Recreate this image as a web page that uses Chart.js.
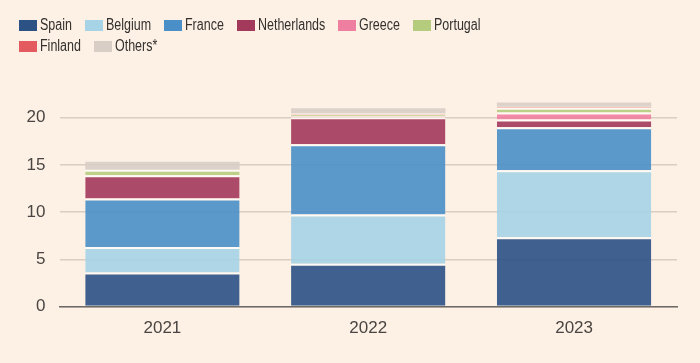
<!DOCTYPE html>
<html>
<head>
<meta charset="utf-8">
<script src="https://cdn.jsdelivr.net/npm/chart.js@4"></script>
<style>
  html, body { margin: 0; padding: 0; background: #fdf1e5; }
  #wrap { position: relative; width: 700px; height: 363px; }
  #legend {
    position: absolute; left: 19px; top: 16px; width: 500px;
    display: flex; flex-wrap: wrap;
    font-family: "Liberation Sans", Arial, sans-serif;
    font-size: 16px; color: #33302e; line-height: 18px;
  }
  #legend .item { display: flex; align-items: center; margin: 0 13px 3px 0; height: 18px; }
  #legend .sw { width: 18px; height: 11px; margin-right: 3px; flex: none; }
  #legend .txt { display: block; white-space: nowrap; height: 18px; }
  #legend .txt span { display: inline-block; transform: scaleX(0.78); transform-origin: 0 50%; vertical-align: top; }
  #legend .br { flex-basis: 100%; height: 0; }
</style>
</head>
<body>
<div id="wrap">
  <div id="legend"></div>
  <canvas id="c" width="700" height="363"></canvas>
</div>
<script>
const years = ["2021", "2022", "2023"];

const spain = [3.6, 4.55, 7.35];
const belgium = [2.7, 5.2, 7.1];
const france = [5.15, 7.45, 4.55];
const netherlands = [2.45, 2.85, 0.8];
const greece = [0, 0.1, 0.75];
const portugal = [0.6, 0.2, 0.5];
const finland = [0, 0.1, 0.1];
const others = [0.85, 0.55, 0.45];

const yTicks = [0, 5, 10, 15, 20];

const series = [
  { label: "Spain", data: spain, color: "#2b5185" },
  { label: "Belgium", data: belgium, color: "#a6d3e6" },
  { label: "France", data: france, color: "#4a8fc8" },
  { label: "Netherlands", data: netherlands, color: "#a3395b" },
  { label: "Greece", data: greece, color: "#ef7fa1" },
  { label: "Portugal", data: portugal, color: "#b5cc7e" },
  { label: "Finland", data: finland, color: "#e35b5f" },
  { label: "Others*", data: others, color: "#d8cec6" },
];

function alpha(hex, a) {
  const n = parseInt(hex.slice(1), 16);
  return `rgba(${(n >> 16) & 255},${(n >> 8) & 255},${n & 255},${a})`;
}

// html legend, left aligned like the original (narrow type faked with scaleX)
const legendEl = document.getElementById("legend");
series.forEach((s, i) => {
  if (i === 6) {
    const br = document.createElement("div");
    br.className = "br";
    legendEl.appendChild(br);
  }
  const item = document.createElement("div");
  item.className = "item";
  item.innerHTML = `<span class="sw" style="background:${s.color}"></span><span class="txt"><span>${s.label}</span></span>`;
  legendEl.appendChild(item);
  const inner = item.querySelector(".txt span");
  item.querySelector(".txt").style.width = inner.offsetWidth * 0.78 + "px";
});

const tickFont = { family: "'Liberation Sans', Arial, sans-serif", size: 17 };
const last = series.length - 1;

new Chart(document.getElementById("c"), {
  type: "bar",
  data: {
    labels: years,
    datasets: series.map((s, i) => ({
      label: s.label,
      data: s.data,
      backgroundColor: alpha(s.color, 0.9),
      borderColor: "rgba(255,250,245,0.95)",
      borderWidth: { top: i === last ? 0 : 2, left: 0, right: 0, bottom: 0 },
      borderSkipped: false,
      barPercentage: 0.75,
      categoryPercentage: 1,
    })),
  },
  options: {
    responsive: false,
    animation: false,
    layout: { padding: { top: 96, right: 23, bottom: 20, left: 0 } },
    plugins: { legend: { display: false }, tooltip: { enabled: false } },
    scales: {
      x: {
        stacked: true,
        grid: { display: false, drawOnChartArea: false, tickLength: 8, color: "#8a827c" },
        border: { display: true, color: "#6f6964", width: 1.5 },
        ticks: { color: "#4a4542", font: tickFont, padding: 4 },
      },
      y: {
        stacked: true,
        min: 0,
        max: 22.3,
        afterFit: (s) => { s.width = 59.5; },
        afterBuildTicks: (s) => { s.ticks = yTicks.map((v) => ({ value: v })); },
        grid: { color: "#d9cec4", lineWidth: 1.5, drawTicks: false },
        border: { display: false },
        ticks: { color: "#4a4542", font: tickFont, padding: 14 },
      },
    },
  },
});
</script>
</body>
</html>
